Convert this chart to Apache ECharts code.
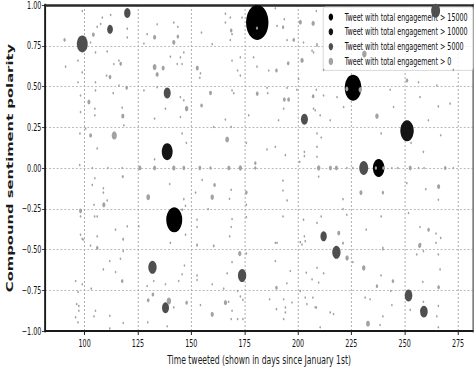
<!DOCTYPE html>
<html><head><meta charset="utf-8">
<script src="https://cdn.jsdelivr.net/npm/echarts@6/dist/echarts.min.js"></script>
<style>
html,body{margin:0;padding:0;background:#fff;overflow:hidden;width:474px;height:371px}
#chart{width:741px;height:371px;transform:scaleX(0.64);transform-origin:0 0}
</style>
</head><body><div id="chart"></div>
<script>
// ---- data ----
const xTicks = [100, 125, 150, 175, 200, 225, 250, 275];
const yTicks = [-1, -0.75, -0.5, -0.25, 0, 0.25, 0.5, 0.75, 1];
const yTickLabels = ['\u22121.00', '\u22120.75', '\u22120.50', '\u22120.25', '0.00', '0.25', '0.50', '0.75', '1.00'];
const xTitle = 'Time tweeted (shown in days since January 1st)';
const yTitle = 'Compound sentiment polarity';
const groupNames = [
  'Tweet with total engagement > 15000',
  'Tweet with total engagement > 10000',
  'Tweet with total engagement > 5000',
  'Tweet with total engagement > 0'
];
// [day, compound polarity, engagement]
const over15000 = [
  [180.9, 0.893, 37800], [142.0, -0.318, 19300], [225.8, 0.493, 20900], [237.8, 0.0, 10000]
];
const over10000 = [
  [251.1, 0.228, 13600], [138.7, 0.10, 8900]
];
const over5000 = [
  [98.9, 0.761, 8900], [120.0, 0.951, 3100], [111.9, 0.851, 2500], [230.8, 0.0, 6050],
  [264.5, 0.965, 6050], [203.0, 0.299, 3700], [138.7, 0.46, 3700], [131.8, -0.609, 5200],
  [173.8, -0.66, 5200], [137.9, -0.857, 3700], [218.0, -0.517, 5200], [212.0, -0.419, 3100],
  [251.8, -0.782, 4400], [259.0, -0.881, 4400]
];
const over0 = [
  [104.1,0.818,600],[102.0,0.405,700],[116.9,0.639,500],[111.9,0.558,600],[117.9,0.318,700],
  [132.8,0.619,1100],[134.0,0.574,700],[132.8,0.802,700],[119.7,0.493,500],[141.8,0.771,700],
  [143.7,0.806,500],[168.7,0.843,500],[136.8,0.613,700],[152.8,0.613,700],[147.8,0.364,900],
  [159.0,0.46,600],[154.8,0.383,500],[180.9,0.456,600],[189.9,0.598,500],[195.4,0.643,500],
  [201.9,0.66,800],[201.1,0.894,700],[207.1,0.887,800],[193.6,0.42,600],[195.6,0.42,600],
  [207.1,0.44,500],[198.0,0.786,500],[193.0,0.864,400],[231.1,0.70,1500],[222.9,0.485,700],
  [229.2,0.48,900],[251.1,0.537,500],[237.0,0.318,900],[102.8,0.2,600],[113.9,0.2,2000],
  [109.0,-0.226,800],[98.1,-0.263,700],[125.9,0,700],[132.8,0,700],[129.8,-0.179,1100],
  [117.9,-0.053,300],[141.8,0,800],[146.5,0,600],[154,0,600],[159,0,400],[167.6,0,700],
  [173,0,900],[180,0,400],[166.8,0.175,1100],[160.9,-0.104,500],[159.8,-0.179,900],
  [175.8,-0.151,500],[180,0.03,400],[209.7,0,900],[215.2,0,700],[218,0,700],[252.6,0,700],
  [269,0,500],[229.5,-0.151,700],[265.9,-0.114,700],[239.8,-0.151,400],[219.1,-0.399,700],
  [261.2,-0.379,500],[257.3,-0.47,400],[105.9,-0.49,500],[117.6,-0.694,500],[132,-0.776,500],
  [129.8,-0.812,500],[172.7,-0.525,800],[166,-0.826,800],[159.8,-0.898,800],[147.8,-0.826,500],
  [139.5,-0.816,1500],[189.9,-0.735,500],[223,-0.552,900],[230.8,-0.613,900],[244.5,-0.694,500],
  [237,-0.725,400],[232.8,-0.955,1100],[257,-0.476,700],[265.9,-0.731,500],[90.6,0.786,400],
  [180.8,0.858,300],[236.5,0,400],[240,0,400],[145.7,-0.256,300],
  // small tweets (engagement too low to read a size)
  [98.9,0.963],[107.5,0.884],[108.3,0.923],[105.9,0.866],[112.2,0.939],[120.0,0.855],[120.0,0.801],
  [102.8,0.770],[110.6,0.715],[105.1,0.709],[96.9,0.659],[91.1,0.622],[98.9,0.587],[113.7,0.638],
  [116.1,0.659],[110.3,0.567],[96.9,0.526],[105.1,0.526],[116.1,0.506],[113.4,0.459],[105.1,0.476],
  [98.1,0.445],[127.8,0.476],[134.0,0.496],[129.3,0.821],[134.0,0.882],[127.8,0.764],[104.8,0.364],
  [104.8,0.323],[98.1,0.343],[117.6,0.370],[118.4,0.262],[132.8,0.303],
  [141.8,0.892],[143.7,0.866],[154.8,0.831],[166.0,0.947],[166.0,0.892],[168.3,0.923],[169.1,0.821],
  [168.3,0.785],[159.8,0.760],[173.8,0.923],[189.4,0.980],[190.2,0.872],[193.6,0.913],[194.9,0.785],
  [202.6,0.770],[208.6,0.963],[140.2,0.683],[144.9,0.679],[146.5,0.709],[143.4,0.638],[145.7,0.638],
  [154.3,0.581],[154.0,0.553],[169.1,0.659],[173.0,0.679],[171.7,0.598],[173.0,0.567],[179.2,0.679],
  [180.8,0.622],[186.3,0.598],[200.3,0.547],[207.3,0.709],[208.9,0.750],[144.9,0.435],[146.5,0.415],
  [137.9,0.364],[144.9,0.313],[159.0,0.465],[169.1,0.476],[169.9,0.459],[185.8,0.459],[185.5,0.492],
  [194.9,0.492],[193.3,0.364],[199.5,0.480],[208.6,0.480],[166.0,0.297],[176.9,0.323],[190.9,0.293],
  [207.3,0.364],
  [212.0,0.602],[208.9,0.760],[206.6,0.720],[212.0,0.445],[218.3,0.435],[208.1,0.354],[210.4,0.323],
  [243.2,0.480],[256.5,0.526],[257.2,0.435],[265.8,0.378],[265.1,0.506],[272.8,0.602],[271.3,0.395],
  [244.8,0.374],[261.1,0.293],[221.4,0.374],[215.1,0.293],
  [100.5,0.242],[97.8,0.212],[105.9,0.120],[97.7,0.018],[103.6,0.0],[110.9,0],[117.6,0],
  [104.8,-0.063],[103.6,-0.104],[108.8,-0.124],[108.8,-0.151],[110.6,-0.199],[104.7,-0.297],
  [105.9,-0.297],[98.1,-0.297],[104.4,-0.226],[114.5,-0.378],[120.0,-0.358],[118.1,-0.435],
  [98.1,-0.409],[105.9,-0.419],[98.9,-0.435],[132.8,0.053],[125.4,-0.358],
  [145.7,0.212],[147.7,0.154],[160.5,0.252],[168.7,0.252],[175.8,0.154],[185.5,0.114],[189.4,0.130],
  [194.1,0.079],[203.0,0.099],[203.0,0.073],[200.8,0.038],[208.9,0.212],[208.9,0.069],[155.1,-0.073],
  [139.9,-0.098],[152.0,-0.151],[168.7,-0.134],[167.9,-0.189],[193.0,-0.077],[193.0,-0.138],
  [194.9,-0.199],[175.8,-0.226],[146.5,-0.191],[147.3,-0.232],[157.9,-0.252],[152.7,-0.317],
  [152.7,-0.362],[169.1,-0.313],[168.7,-0.362],[175.8,-0.301],[193.0,-0.297],[202.6,-0.317],
  [203.0,-0.419],[168.0,-0.419],[189.4,-0.459],[152.7,-0.470],[160.5,-0.480],[201.1,-0.455],
  [147.3,-0.409],[140.2,-0.459],
  [210.9,0.187],[208.9,0.130],[239.0,0.212],[258.8,0.099],[266.9,0.201],[253.0,0.154],[222.9,0],
  [225.7,0],[244.0,0],[246.8,0],[256.5,0],[259.1,0],[272.8,0],[209.7,-0.053],[251.0,-0.093],
  [259.9,-0.130],[265.8,-0.195],[221.1,-0.191],[221.1,-0.252],[222.9,-0.287],[210.9,-0.297],
  [239.0,-0.297],[251.8,-0.276],[208.9,-0.337],[232.0,-0.378],[257.2,-0.362],[264.7,-0.402],
  [266.9,-0.429],[221.1,-0.459],[239.8,-0.490],
  [102.8,-0.476],[99.4,-0.439],[118.1,-0.439],[111.8,-0.571],[108.8,-0.622],[114.5,-0.638],
  [116.8,-0.557],[118.1,-0.510],[95.8,-0.693],[98.9,-0.713],[96.9,-0.760],[103.1,-0.740],
  [96.3,-0.835],[97.3,-0.846],[97.3,-0.876],[95.8,-0.916],[96.9,-0.947],[104.4,-0.910],
  [105.1,-0.876],[111.8,-0.907],[111.8,-0.984],[118.1,-0.951],[129.6,-0.947],[132.4,-0.693],
  [129.3,-0.724],
  [152.7,-0.476],[160.5,-0.476],[169.1,-0.577],[175.8,-0.524],[166.8,-0.646],[159.8,-0.713],
  [152.7,-0.659],[152.7,-0.687],[145.7,-0.652],[144.1,-0.693],[146.8,-0.598],[137.9,-0.713],
  [141.8,-0.855],[154.3,-0.841],[167.5,-0.821],[169.1,-0.876],[173.0,-0.788],[174.2,-0.809],
  [171.7,-0.927],[174.2,-0.927],[168.7,-0.927],[138.7,-0.971],[189.4,-0.571],[196.4,-0.632],
  [194.8,-0.707],[190.2,-0.459],[186.7,-0.805],[193.3,-0.805],[194.1,-0.855],[194.1,-0.886],
  [189.9,-0.866],[193.3,-0.927],[197.2,-0.825],[201.1,-0.754],[203.4,-0.795],[204.2,-0.835],
  [206.6,-0.683],[203.9,-0.642],[201.9,-0.470],[203.4,-0.449],[208.6,-0.855],[165.2,-0.740],
  [171.7,-0.754],
  [221.1,-0.463],[225.7,-0.577],[208.9,-0.612],[212.0,-0.646],[209.7,-0.703],[207.0,-0.795],
  [208.1,-0.855],[215.1,-0.886],[216.7,-0.896],[210.4,-0.977],[231.5,-0.795],[233.8,-0.805],
  [238.9,-0.659],[239.8,-0.910],[238.5,-0.963],[244.0,-0.841],[243.5,-0.754],[258.8,-0.821],
  [258.5,-0.699],[252.6,-0.870],[265.1,-0.910],[265.8,-0.846],[265.8,-0.977],[266.6,-0.622],
  [264.7,-0.459],[255.7,-0.530],[258.8,-0.510],[265.8,-0.530],[239.8,-0.500]
];
const groupData = [over15000, over10000, over5000, over0];
const groupColors = ['#000000', '#141414', '#4f4f4f', '#a2a2a2'];

// ---- chart ----
const FONT = 'DejaVu Sans';
const chart = echarts.init(document.getElementById('chart'), null, { renderer: 'svg' });
const sizeOf = d => (d.length > 2 ? Math.sqrt(d[2]) * 0.18 : 2.5);

const option = {
  animation: false,
  backgroundColor: '#fff',
  textStyle: { fontFamily: FONT },
  grid: { left: 69.5, right: 2, top: 4, bottom: 39 },
  legend: {
    orient: 'vertical',
    left: 505, top: 7, z: 3,
    padding: [4, 8, 3, 8.5],
    backgroundColor: 'rgba(255,255,255,0.8)',
    borderColor: '#d0d0d0', borderWidth: 1, borderRadius: 3,
    icon: 'circle', itemWidth: 7, itemHeight: 7, itemGap: 2.8,
    formatter: n => '{p|}' + n,
    textStyle: { fontFamily: FONT, fontSize: 10, color: '#111', lineHeight: 12,
      rich: { p: { width: 13 } } },
    data: groupNames
  },
  xAxis: [{
    type: 'value', min: 81.5, max: 282,
    name: xTitle, nameLocation: 'middle', nameGap: 23,
    nameTextStyle: { fontFamily: FONT, fontSize: 12, color: '#1a1a1a' },
    axisLine: { show: true, onZero: false, lineStyle: { color: '#1a1a1a', width: 2 } },
    axisTick: { show: true, length: 4, customValues: xTicks, lineStyle: { color: '#1a1a1a', width: 1.5 } },
    axisLabel: { customValues: xTicks, margin: 7, fontFamily: FONT, fontSize: 10, color: '#111' },
    splitLine: { show: true, lineStyle: { color: '#aaaaaa', width: 1.5, type: [2, 2] } }
  }, {
    type: 'value', position: 'top', min: 81.5, max: 282,
    axisLine: { show: true, onZero: false, lineStyle: { color: '#2a2a2a', width: 2.5 } },
    axisTick: { show: false }, axisLabel: { show: false }, splitLine: { show: false }
  }],
  yAxis: [{
    type: 'value', min: -1, max: 1, interval: 0.25,
    name: yTitle, nameLocation: 'middle', nameGap: 34,
    nameTextStyle: { fontFamily: FONT, fontSize: 14.8, fontWeight: 'bold', color: '#1a1a1a' },
    axisLine: { show: true, onZero: false, lineStyle: { color: '#1a1a1a', width: 3 } },
    axisTick: { show: true, length: 5, lineStyle: { color: '#1a1a1a', width: 1 } },
    axisLabel: { margin: 6, fontFamily: FONT, fontSize: 10, color: '#111',
      formatter: v => yTickLabels[yTicks.indexOf(Math.round(v * 100) / 100)] },
    splitLine: { show: true, lineStyle: { color: '#aaaaaa', width: 1, type: [3, 3] } }
  }, {
    type: 'value', position: 'right', min: -1, max: 1, interval: 0.25,
    axisLine: { show: true, onZero: false, lineStyle: { color: '#808080', width: 3 } },
    axisTick: { show: false }, axisLabel: { show: false }, splitLine: { show: false }
  }],
  series: groupNames.map((name, i) => ({
    name, type: 'scatter', xAxisIndex: 0, yAxisIndex: 0, z: 5,
    data: groupData[i], symbol: 'circle', symbolSize: sizeOf,
    itemStyle: { color: groupColors[i], opacity: 1 },
    emphasis: { disabled: true }
  }))
};
chart.setOption(option);
</script></body></html>
